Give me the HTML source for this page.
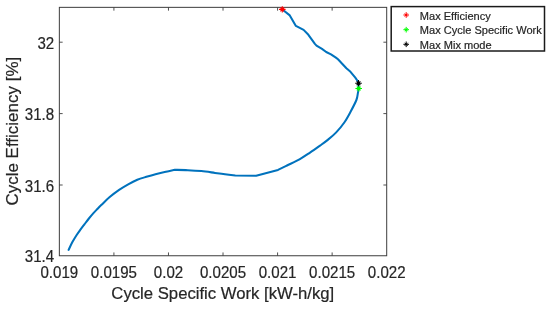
<!DOCTYPE html>
<html><head><meta charset="utf-8"><title>Cycle Efficiency vs Cycle Specific Work</title>
<style>
html,body{margin:0;padding:0;background:#fff;}
svg{display:block;}
text{font-family:"Liberation Sans",Arial,Helvetica,sans-serif;fill:#262626;stroke:#262626;stroke-width:0.2px;}
</style></head><body>
<svg width="550" height="309" viewBox="0 0 550 309">
<rect width="550" height="309" fill="#fff"/>
<!-- axes box -->
<rect x="59.35" y="7.35" width="327.35" height="248.40" fill="none" stroke="#3d3d3d" stroke-width="1"/>
<!-- ticks -->
<g stroke="#3d3d3d" stroke-width="0.9">
<path d="M113.91 255.75v-3.3M168.47 255.75v-3.3M223.02 255.75v-3.3M277.58 255.75v-3.3M332.14 255.75v-3.3"/>
<path d="M113.91 7.35v3.3M168.47 7.35v3.3M223.02 7.35v3.3M277.58 7.35v3.3M332.14 7.35v3.3"/>
<path d="M59.35 42.20h3.3M59.35 113.60h3.3M59.35 185.00h3.3"/>
<path d="M386.70 42.20h-3.3M386.70 113.60h-3.3M386.70 185.00h-3.3"/>
</g>
<!-- curve -->
<path id="curve" fill="none" stroke="#0072bd" stroke-width="2.05" stroke-linejoin="round" stroke-linecap="round"
d="M68.60 249.90 C69.23 248.60 71.08 244.55 72.40 242.10 C73.72 239.65 75.13 237.32 76.50 235.20 C77.87 233.08 79.22 231.28 80.60 229.40 C81.97 227.52 83.37 225.72 84.75 223.90 C86.13 222.08 87.53 220.22 88.90 218.50 C90.28 216.78 91.63 215.13 93.00 213.60 C94.37 212.07 95.72 210.72 97.10 209.30 C98.47 207.88 99.20 207.10 101.25 205.10 C103.30 203.10 106.43 199.83 109.40 197.30 C112.38 194.77 115.97 192.07 119.10 189.90 C122.23 187.73 125.17 185.98 128.20 184.30 C131.23 182.62 134.27 181.05 137.30 179.80 C140.33 178.55 143.37 177.73 146.40 176.80 C149.43 175.87 152.47 174.98 155.50 174.20 C158.53 173.42 161.38 172.82 164.60 172.10 C167.82 171.38 173.10 170.22 174.80 169.85 C176.95 169.90 183.27 169.94 187.70 170.15 C192.13 170.36 196.85 170.64 201.40 171.10 C205.95 171.56 211.07 172.37 215.00 172.90 C218.93 173.43 221.62 173.85 225.00 174.30 C228.38 174.75 233.58 175.38 235.30 175.60 L256.15 175.75 L278.00 169.90 C279.50 169.17 283.42 167.27 287.00 165.50 C290.58 163.73 295.72 161.42 299.50 159.30 C303.28 157.18 306.28 155.08 309.70 152.80 C313.12 150.52 316.93 147.80 320.00 145.60 C323.07 143.40 325.40 141.80 328.10 139.60 C330.80 137.40 333.50 135.25 336.20 132.40 C338.90 129.55 341.88 125.98 344.30 122.50 C346.72 119.02 348.68 115.25 350.70 111.50 C352.72 107.75 355.22 102.98 356.40 100.00 C357.58 97.02 357.43 95.52 357.80 93.60 C358.17 91.68 358.52 90.22 358.60 88.50 C358.68 86.78 358.35 84.17 358.30 83.30 L358.00 81.50 L355.30 77.60 L350.50 71.80 L346.40 68.30 L342.40 64.00 L338.00 59.30 L335.90 57.60 L331.00 54.30 L326.20 52.00 L322.00 48.90 L316.50 45.60 L314.90 43.90 L308.40 34.80 L303.60 29.90 L295.90 25.90 L289.80 15.40 L282.40 9.50"/>
<!-- markers -->
<g stroke-width="1.1" fill="none">
<path transform="translate(282.3 9.4)" stroke="#ff0000" d="M-3.3 0h6.6M0 -3.1v6.2M-1.9 -1.9l3.8 3.8M-1.9 1.9l3.8 -3.8"/>
<path transform="translate(358.7 88.5)" stroke="#00ff00" d="M-3.3 0h6.6M0 -3.1v6.2M-1.9 -1.9l3.8 3.8M-1.9 1.9l3.8 -3.8"/>
<path transform="translate(358.5 83.2)" stroke="#000000" d="M-3.3 0h6.6M0 -3.1v6.2M-1.9 -1.9l3.8 3.8M-1.9 1.9l3.8 -3.8"/>
</g>
<!-- tick labels -->
<g font-size="15.8px" text-anchor="end">
<text transform="translate(54.2 48.90) scale(0.955 1)">32</text>
<text transform="translate(54.2 120.30) scale(0.955 1)">31.8</text>
<text transform="translate(54.2 191.70) scale(0.955 1)">31.6</text>
<text transform="translate(54.2 262.45) scale(0.955 1)">31.4</text>
</g>
<g font-size="15.8px" text-anchor="middle">
<text transform="translate(59.35 277.7) scale(0.955 1)">0.019</text>
<text transform="translate(113.91 277.7) scale(0.955 1)">0.0195</text>
<text transform="translate(168.47 277.7) scale(0.955 1)">0.02</text>
<text transform="translate(223.02 277.7) scale(0.955 1)">0.0205</text>
<text transform="translate(277.58 277.7) scale(0.955 1)">0.021</text>
<text transform="translate(332.14 277.7) scale(0.955 1)">0.0215</text>
<text transform="translate(386.70 277.7) scale(0.955 1)">0.022</text>
</g>
<!-- axis labels -->
<text x="222.8" y="299.2" font-size="16.7px" text-anchor="middle">Cycle Specific Work [kW-h/kg]</text>
<text transform="translate(18.1 131.2) rotate(-90) scale(1.043 1)" font-size="16.3px" text-anchor="middle">Cycle Efficiency [%]</text>
<!-- legend -->
<rect x="391.2" y="6.6" width="153.3" height="44.4" fill="#fff" stroke="#1a1a1a" stroke-width="1.5"/>
<g stroke-width="1" fill="none">
<path transform="translate(406.2 15.0)" stroke="#ff0000" d="M-2.8 0h5.6M0 -2.8v5.6M-1.5 -1.5l3 3M-1.5 1.5l3 -3"/>
<path transform="translate(406.2 29.7)" stroke="#00ff00" d="M-2.8 0h5.6M0 -2.8v5.6M-1.5 -1.5l3 3M-1.5 1.5l3 -3"/>
<path transform="translate(406.2 44.3)" stroke="#000000" d="M-2.8 0h5.6M0 -2.8v5.6M-1.5 -1.5l3 3M-1.5 1.5l3 -3"/>
</g>
<g font-size="11.05px">
<text x="419.8" y="19.7">Max Efficiency</text>
<text x="419.8" y="34.4">Max Cycle Specific Work</text>
<text x="419.8" y="49.2">Max Mix mode</text>
</g>
</svg>
</body></html>
